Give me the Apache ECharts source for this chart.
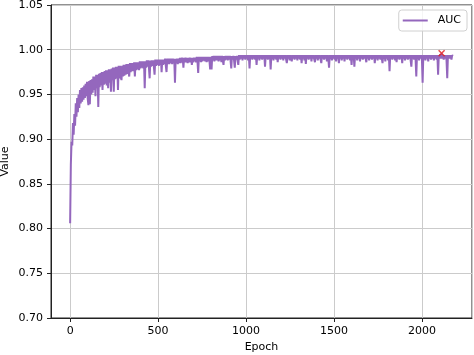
<!DOCTYPE html>
<html>
<head>
<meta charset="utf-8">
<script src="https://cdn.jsdelivr.net/npm/echarts@6/dist/echarts.min.js"></script>
<style>
    html, body { margin: 0; padding: 0; background: #fff; }
    #chart { width: 474px; height: 355px; }
</style>
</head>
<body>
<div id="chart"></div>
<script>
    const EPOCH_STEP = 4;
    const seriesName = 'AUC';
    const aucValues = [
        0.806, 0.872, 0.897, 0.893, 0.918, 0.905, 0.928, 0.915, 0.940, 0.925, 0.946, 0.930, 0.950, 0.935, 0.955, 0.940, 0.957, 0.942, 0.958, 0.944,
        0.960, 0.946, 0.962, 0.948, 0.964, 0.945, 0.938, 0.965, 0.939, 0.966, 0.950, 0.967, 0.952, 0.970, 0.955, 0.970, 0.948, 0.972, 0.957, 0.972,
        0.936, 0.973, 0.958, 0.974, 0.960, 0.975, 0.955, 0.975, 0.961, 0.976, 0.962, 0.977, 0.960, 0.977, 0.957, 0.978, 0.963, 0.978, 0.953, 0.979,
        0.966, 0.980, 0.953, 0.980, 0.967, 0.981, 0.968, 0.981, 0.955, 0.982, 0.968, 0.982, 0.969, 0.966, 0.982, 0.970, 0.983, 0.971, 0.983, 0.972,
        0.984, 0.973, 0.984, 0.975, 0.970, 0.985, 0.975, 0.985, 0.976, 0.985, 0.976, 0.986, 0.970, 0.986, 0.977, 0.986, 0.978, 0.986, 0.977, 0.987,
        0.979, 0.987, 0.980, 0.987, 0.979, 0.987, 0.957, 0.987, 0.980, 0.988, 0.981, 0.988, 0.980, 0.968, 0.988, 0.981, 0.988, 0.982, 0.988, 0.981,
        0.972, 0.989, 0.982, 0.989, 0.983, 0.989, 0.982, 0.989, 0.983, 0.989, 0.975, 0.989, 0.983, 0.989, 0.984, 0.990, 0.982, 0.975, 0.990, 0.984,
        0.990, 0.984, 0.990, 0.985, 0.990, 0.984, 0.990, 0.985, 0.990, 0.963, 0.990, 0.985, 0.990, 0.984, 0.990, 0.985, 0.991, 0.985, 0.991, 0.986,
        0.991, 0.980, 0.991, 0.986, 0.991, 0.986, 0.991, 0.985, 0.991, 0.986, 0.991, 0.986, 0.991, 0.983, 0.991, 0.986, 0.991, 0.987, 0.991, 0.986,
        0.992, 0.987, 0.974, 0.992, 0.987, 0.992, 0.986, 0.992, 0.987, 0.992, 0.988, 0.992, 0.987, 0.992, 0.986, 0.992, 0.987, 0.992, 0.988, 0.978,
        0.992, 0.978, 0.993, 0.988, 0.993, 0.987, 0.993, 0.988, 0.993, 0.988, 0.993, 0.987, 0.993, 0.988, 0.993, 0.986, 0.993, 0.988, 0.983, 0.993,
        0.988, 0.993, 0.989, 0.993, 0.988, 0.993, 0.989, 0.993, 0.988, 0.979, 0.993, 0.989, 0.993, 0.988, 0.980, 0.993, 0.989, 0.993, 0.988, 0.983,
        0.994, 0.989, 0.994, 0.990, 0.994, 0.988, 0.994, 0.990, 0.994, 0.989, 0.994, 0.990, 0.994, 0.988, 0.994, 0.979, 0.994, 0.990, 0.994, 0.989,
        0.994, 0.990, 0.994, 0.989, 0.994, 0.983, 0.994, 0.990, 0.994, 0.988, 0.994, 0.990, 0.994, 0.989, 0.994, 0.990, 0.994, 0.981, 0.994, 0.990,
        0.994, 0.989, 0.994, 0.990, 0.994, 0.978, 0.994, 0.990, 0.994, 0.988, 0.994, 0.990, 0.994, 0.989, 0.994, 0.986, 0.994, 0.990, 0.994, 0.989,
        0.994, 0.990, 0.994, 0.988, 0.994, 0.990, 0.994, 0.989, 0.985, 0.994, 0.990, 0.994, 0.988, 0.994, 0.990, 0.987, 0.994, 0.990, 0.994, 0.989,
        0.994, 0.990, 0.994, 0.988, 0.994, 0.990, 0.994, 0.989, 0.994, 0.985, 0.994, 0.990, 0.994, 0.988, 0.994, 0.984, 0.994, 0.990, 0.994, 0.989,
        0.994, 0.990, 0.994, 0.987, 0.994, 0.990, 0.994, 0.989, 0.986, 0.994, 0.990, 0.994, 0.988, 0.994, 0.990, 0.994, 0.989, 0.985, 0.994, 0.990,
        0.994, 0.989, 0.994, 0.990, 0.994, 0.987, 0.994, 0.990, 0.980, 0.994, 0.990, 0.994, 0.988, 0.994, 0.990, 0.994, 0.989, 0.994, 0.987, 0.994,
        0.990, 0.994, 0.985, 0.994, 0.990, 0.994, 0.988, 0.994, 0.990, 0.994, 0.987, 0.994, 0.990, 0.994, 0.989, 0.994, 0.990, 0.994, 0.988, 0.994,
        0.983, 0.994, 0.990, 0.994, 0.981, 0.994, 0.990, 0.994, 0.988, 0.994, 0.990, 0.994, 0.987, 0.994, 0.990, 0.994, 0.989, 0.994, 0.990, 0.994,
        0.990, 0.986, 0.994, 0.990, 0.994, 0.988, 0.994, 0.990, 0.994, 0.989, 0.994, 0.990, 0.994, 0.985, 0.994, 0.990, 0.994, 0.988, 0.994, 0.990,
        0.994, 0.989, 0.994, 0.990, 0.985, 0.994, 0.990, 0.994, 0.987, 0.994, 0.990, 0.994, 0.988, 0.994, 0.976, 0.994, 0.990, 0.994, 0.989, 0.994,
        0.990, 0.994, 0.988, 0.994, 0.986, 0.994, 0.990, 0.994, 0.989, 0.994, 0.990, 0.994, 0.985, 0.994, 0.990, 0.994, 0.988, 0.994, 0.990, 0.994,
        0.989, 0.994, 0.990, 0.994, 0.988, 0.981, 0.994, 0.990, 0.994, 0.989, 0.994, 0.990, 0.970, 0.994, 0.990, 0.994, 0.988, 0.994, 0.990, 0.994,
        0.990, 0.963, 0.994, 0.990, 0.994, 0.988, 0.994, 0.990, 0.994, 0.987, 0.994, 0.990, 0.994, 0.989, 0.994, 0.990, 0.994, 0.988, 0.994, 0.990,
        0.994, 0.989, 0.994, 0.972, 0.994, 0.990, 0.995, 0.990, 0.996, 0.990, 0.994, 0.989, 0.994, 0.990, 0.994, 0.988, 0.968, 0.994, 0.990, 0.994,
        0.990, 0.994, 0.989, 0.994, 0.993
    ];

    const lineData = aucValues.map((v, i) => [i * EPOCH_STEP, v]);
    let best = 0;
    for (let i = 1; i < aucValues.length; i++) {
        if (aucValues[i] > aucValues[best]) best = i;
    }
    const bestPoint = [best * EPOCH_STEP, aucValues[best]];

    // matplotlib-like 5% margins round the data
    const lastEpoch = (aucValues.length - 1) * EPOCH_STEP;
    const pad = lastEpoch * 0.05;

    const font = 'DejaVu Sans';
    const chart = echarts.init(document.getElementById('chart'));
    const option = {
        animation: false,
        textStyle: { fontFamily: font },
        grid: {
            left: 51, right: 2, top: 5, bottom: 37,
            outerBoundsMode: 'none',
            containLabel: false,
            show: true, borderColor: '#222', borderWidth: 1
        },
        legend: {
            data: [{ name: seriesName, icon: 'rect' }],
            right: 7, top: 10,
            itemWidth: 25, itemHeight: 2,
            padding: [5, 6, 5, 4],
            backgroundColor: 'rgba(255,255,255,0.8)',
            borderColor: '#d0d0d0', borderWidth: 1, borderRadius: 3,
            textStyle: { fontFamily: font, fontSize: 11, color: '#000', padding: [0, 0, 0, 5] }
        },
        xAxis: {
            type: 'value',
            min: -pad, max: lastEpoch + pad,
            splitNumber: 5,
            name: 'Epoch', nameLocation: 'middle', nameGap: 24,
            nameMoveOverlap: false,
            nameTextStyle: { fontFamily: font, fontSize: 11, color: '#000' },
            axisLine: { onZero: false, lineStyle: { color: '#222', width: 1 } },
            axisTick: { length: 4, lineStyle: { color: '#222' } },
            axisLabel: {
                fontFamily: font, fontSize: 11, color: '#000', margin: 8,
                showMinLabel: false, showMaxLabel: false,
                formatter: v => (Math.abs(v % 500) < 1e-6 ? String(v) : '')
            },
            splitLine: { show: true, lineStyle: { color: '#cbcbcb', width: 1 } }
        },
        yAxis: {
            type: 'value',
            min: 0.70, max: 1.05, interval: 0.05,
            name: 'Value', nameLocation: 'middle', nameGap: 40,
            nameMoveOverlap: false,
            nameTextStyle: { fontFamily: font, fontSize: 11, color: '#000' },
            axisLine: { show: true, onZero: false, lineStyle: { color: '#222', width: 1 } },
            axisTick: { show: true, length: 4, lineStyle: { color: '#222' } },
            axisLabel: {
                fontFamily: font, fontSize: 11, color: '#000', margin: 8,
                formatter: v => v.toFixed(2)
            },
            splitLine: { show: true, lineStyle: { color: '#cbcbcb', width: 1 } }
        },
        series: [
            {
                name: seriesName,
                type: 'line',
                data: lineData,
                showSymbol: false,
                sampling: 'none',
                lineStyle: { color: '#9467bd', width: 2 },
                itemStyle: { color: '#9467bd' },
                z: 3
            },
            {
                name: 'best',
                type: 'scatter',
                data: [bestPoint],
                symbol: 'path://M0,0L10,10M10,0L0,10',
                symbolSize: 6,
                itemStyle: { color: 'transparent', borderColor: '#e41a1c', borderWidth: 1.5 },
                z: 4
            }
        ]
    };
    chart.setOption(option);
</script>
</body>
</html>
